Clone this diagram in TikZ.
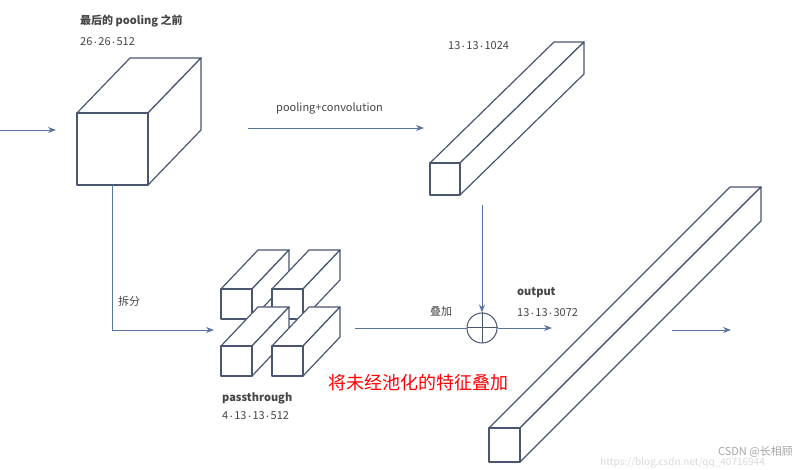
\documentclass[tikz,border=0pt]{standalone}
\usepackage{fontspec}
\setmainfont{Noto Sans CJK SC}
\usetikzlibrary{arrows.meta}
\definecolor{edge}{HTML}{4A5670}
\definecolor{arr}{HTML}{5A74A0}
\definecolor{txt}{HTML}{444444}
\newcommand{\bt}{\kern-0.5pt{\fontsize{7}{7}\selectfont\raisebox{0.3pt}{•}}\kern-0.5pt}
\tikzset{
  face/.style={draw=edge,line width=1.2pt,fill=white,line join=round},
  flow/.style={draw=arr,line width=0.8pt,-{Stealth[length=8pt,width=6pt]}},
  lab/.style={anchor=west,inner sep=0,text=txt,font=\fontsize{11}{13}\selectfont},
  blab/.style={lab,font=\bfseries\fontsize{11}{13}\selectfont}
}
\newcommand{\mycuboid}[6]{%
  \fill[white] (#1,#2) -- ++(#5,-#6) -- ++(#3,0) -- ++(0,#4) -- ++(-#5,#6) -- ++(-#3,0) -- cycle;
  \draw[face] (#1,#2) -- ++(#5,-#6) -- ++(#3,0) -- ++(-#5,#6) -- cycle;
  \draw[face] (#1+#3,#2) -- ++(#5,-#6) -- ++(0,#4) -- ++(-#5,#6) -- cycle;
  \draw[face] (#1,#2) rectangle ++(#3,#4);
}
\begin{document}
\begin{tikzpicture}[x=1pt,y=-1pt]
\useasboundingbox (0,0) rectangle (804,470);
\mycuboid{77}{113}{71}{72}{53}{55}
\mycuboid{430}{163}{30}{32}{124}{121}
\mycuboid{221}{289}{31}{30}{37}{39}
\mycuboid{272}{289}{31}{30}{37}{39}
\mycuboid{221}{346}{31}{30}{37}{39}
\mycuboid{272}{346}{31}{30}{37}{39}
\mycuboid{489}{428}{31}{34}{241}{241}

\node[blab] (t1) at (80,21) {最后的 pooling 之前};
\node[lab] (t2) at (80,42) {26\bt26\bt512};
\node[lab] (t3) at (448,46) {13\bt13\bt1024};
\node[lab] (t4) at (276,109) {pooling+convolution};
\node[lab] (t5) at (118,301) {拆分};
\node[lab] (t6) at (430,311) {叠加};
\node[blab] (t7) at (517,293) {output};
\node[lab] (t8) at (517,313) {13\bt13\bt3072};
\node[blab] (t9) at (222,398) {passthrough};
\node[lab] (t10) at (222,416) {4\bt13\bt13\bt512};
\node[anchor=west,inner sep=0,text=red,font=\fontsize{18}{20}\selectfont] (t11) at (328,383) {将未经池化的特征叠加};
\node[anchor=east,inner sep=0,text=black!35,font=\fontsize{11}{12}\selectfont] (w1) at (793,452) {CSDN @长相顾};
\node[anchor=east,inner sep=0,text=black!15,font=\fontsize{10}{12}\selectfont] (w2) at (765,463) {https://blog.csdn.net/qq\_40716944};

\coordinate (a0) at (0,130); \coordinate (a1) at (56,130);
\draw[flow] (a0) -- (a1);
\coordinate (b0) at (248,128); \coordinate (b1) at (424,128);
\draw[flow] (b0) -- (b1);
\coordinate (c0) at (112,185); \coordinate (c1) at (112,330); \coordinate (c2) at (214,330);
\draw[flow] (c0) -- (c1) -- (c2);
\node[draw=edge,line width=1pt,circle,minimum size=30pt,inner sep=0] (plus) at (482,328) {};
\draw[edge,line width=1pt] (plus.north) -- (plus.south) (plus.west) -- (plus.east);
\coordinate (d0) at (355,328);
\draw[draw=arr,line width=0.8pt] (d0) -- (plus.west);
\coordinate (e0) at (482,205);
\draw[flow] (e0) -- (plus.north);
\coordinate (f1) at (552,328);
\draw[flow] (plus.east) -- (f1);
\coordinate (g0) at (672,330); \coordinate (g1) at (731,330);
\draw[flow] (g0) -- (g1);
\end{tikzpicture}
\end{document}
